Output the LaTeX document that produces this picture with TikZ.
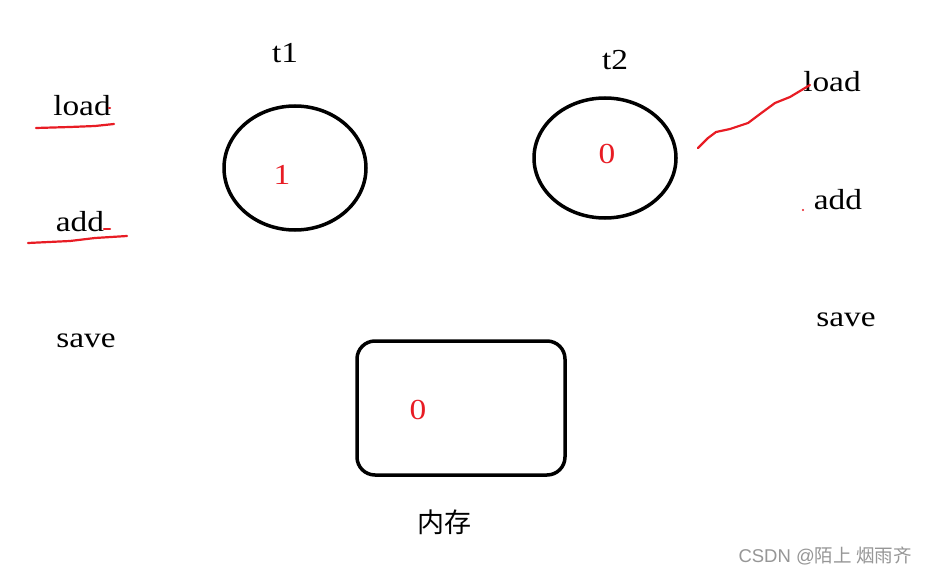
\documentclass[tikz,border=0pt]{standalone}
\usepackage{fontspec}
\setmainfont{Liberation Serif}[FakeStretch=1.15]
\newfontfamily\cjk{Noto Sans CJK SC}
\newfontfamily\wm{Liberation Sans}
\definecolor{penred}{RGB}{232,28,36}
\definecolor{wmgray}{RGB}{150,150,150}
\begin{document}
\begin{tikzpicture}[x=1pt,y=-1pt,
  lbl/.style={font=\fontsize{29}{31}\selectfont, inner sep=0pt},
  num/.style={font=\fontsize{29}{31}\selectfont, text=penred, inner sep=0pt},
  shapeline/.style={line width=3.5pt, draw=black},
  pen/.style={draw=penred, line width=2.2pt, line cap=round, line join=round}]
\fill[white] (0,0) rectangle (929,575);
\useasboundingbox (0,0) rectangle (929,575);
% threads
\node[lbl] (t1) at (285,53) {t1};
\node[lbl] (t2) at (615,60) {t2};
\draw[shapeline] (295,168) ellipse [x radius=71, y radius=62];
\node[num] (v1) at (282,175) {1};
\draw[shapeline] (605,158) ellipse [x radius=71, y radius=60];
\node[num] (v2) at (607,154) {0};
% memory
\draw[shapeline, rounded corners=18pt] (357,341) rectangle (565,475);
\node[num] (vm) at (418,410) {0};
\node[lbl, font=\cjk\fontsize{27}{29}\selectfont] (mem) at (444,522) {内存};
% left ops
\node[lbl] (l1) at (82,106) {load};
\node[lbl] (l2) at (80,222) {add};
\node[lbl] (l3) at (86,341) {save};
% right ops
\node[lbl] (r1) at (832,82) {load};
\node[lbl] (r2) at (838,200) {add};
\node[lbl] (r3) at (846,320) {save};
% red pen marks
\draw[pen] (36,128) -- (70,127) -- (95,126) -- (114,124);
\draw[pen] (109,108) -- (110,108);
\draw[pen] (28,243) -- (70,241) -- (95,238) -- (127,236);
\draw[pen] (104,229) -- (110,229);
\draw[pen] (698,148) -- (708,138) -- (716,132) -- (730,129) -- (748,123) -- (760,114) -- (775,103) -- (790,97) -- (810,85);
\fill[penred] (803,210) circle (1.2);
% watermark
\node[font=\fontsize{18.5}{20}\selectfont, text=wmgray, inner sep=0pt] (wmk) at (825,556) {\wm CSDN @\cjk 陌上 烟雨齐};
\end{tikzpicture}
\end{document}
